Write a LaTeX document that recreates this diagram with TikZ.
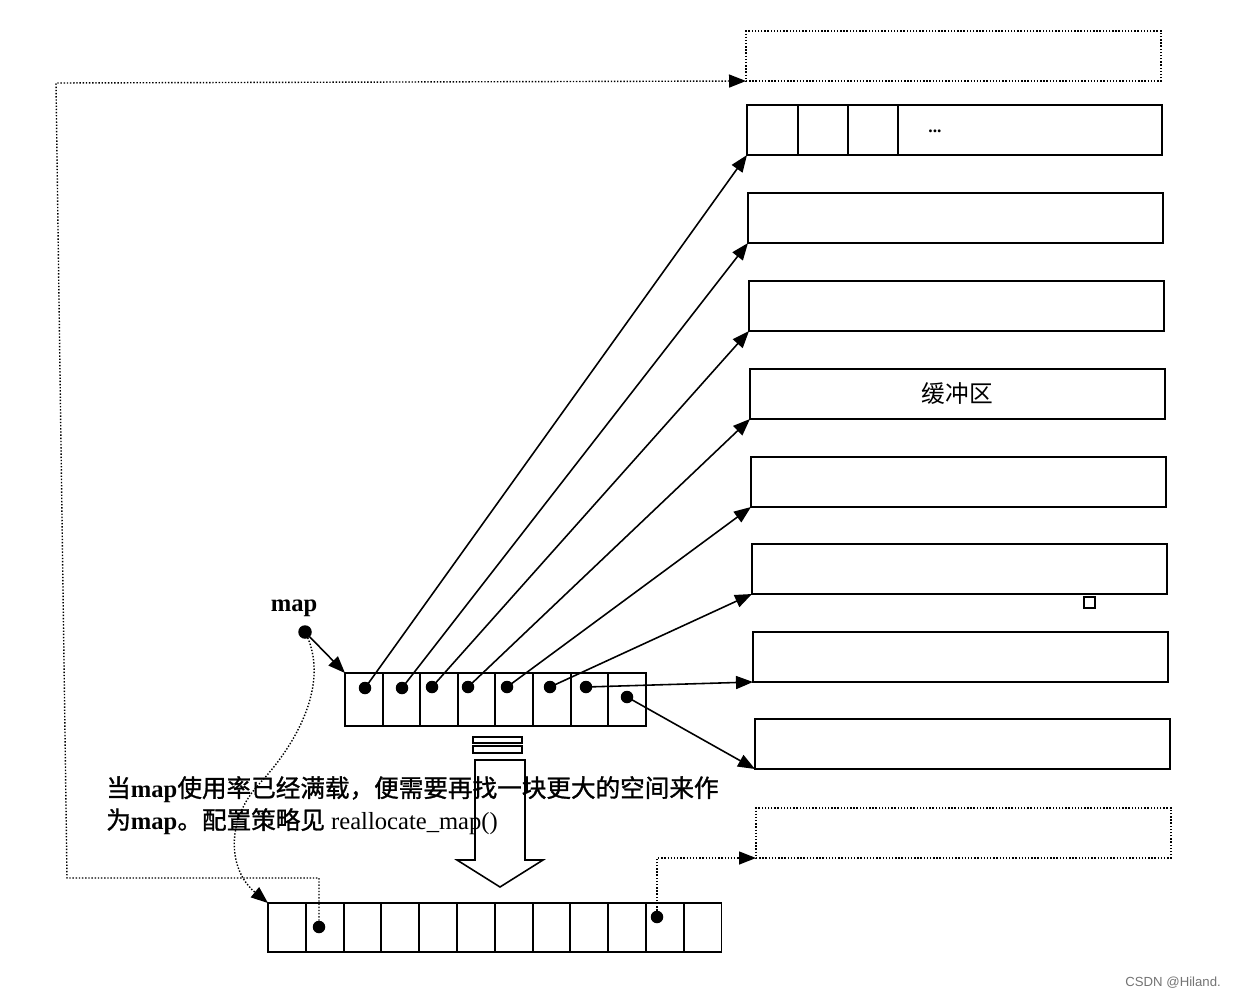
\documentclass[tikz,border=0pt]{standalone}
\usepackage{fontspec}
\setmainfont{Liberation Serif}
\newfontfamily\cjk{Noto Sans CJK SC}
\newfontfamily\cjkb[FakeBold=1.2]{Noto Sans CJK SC}
\newfontfamily\wmfont{Liberation Sans}
\usetikzlibrary{positioning,arrows.meta}

\tikzset{
  buf/.style={draw,line width=1.1pt,minimum width=8.3cm,minimum height=1.0cm,anchor=north west,inner sep=0pt,outer sep=0pt},
  ghost/.style={buf,line width=0.8pt,densely dotted},
  cell/.style={draw,line width=1.1pt,minimum width=0.752cm,minimum height=1.06cm,inner sep=0pt,outer sep=0pt},
  ptr/.style={circle,fill,inner sep=0pt,minimum size=0.25cm},
  link/.style={-{Triangle[length=3.4mm,width=2.6mm]},line width=0.9pt},
  dlink/.style={link,line width=0.8pt,densely dotted},
  note/.style={anchor=base west,inner sep=0pt,font=\fontsize{14}{16}\selectfont},
}

\begin{document}
\begin{tikzpicture}[x=0.02cm,y=-0.02cm]
\useasboundingbox (0,0) rectangle (1240,998);
% buffers on the right
\node[ghost] (b0) at (746,31) {};
\foreach \i/\x/\y in {1/747/105, 2/748/193, 3/749/281, 4/750/369, 5/751/457, 6/752/544, 7/753/632, 8/755/719}
  {\node[buf] (b\i) at (\x,\y) {};}
\node[ghost] (b9) at (756,808) {};
\foreach \k in {51,101,151}
  {\draw[line width=1.1pt] ([xshift=\k*0.02cm]b1.north west) -- ([xshift=\k*0.02cm]b1.south west);}
\node[font=\bfseries\normalsize] (etc) at (935,131) {...};
\node[font=\cjk\fontsize{13.5}{16}\selectfont] (bufname) at (b4.center) {缓冲区};
\draw[line width=0.7pt] (1084,597) rectangle (1095,608);
% the map and its pointers
\node[cell] (m1) at (363.8,699.5) {};
\foreach \k [count=\j] in {2,...,8}
  {\node[cell,right=0pt of m\j] (m\k) {};}
\foreach \i/\x/\y in {1/365/688, 2/402/688, 3/432/687, 4/468/687, 5/507/687, 6/550/687, 7/586/687, 8/627/697}
  {\node[ptr] (d\i) at (\x,\y) {};}
\foreach \i in {1,...,8}
  {\draw[link] (d\i.center) -- (b\i.south west);}
\node[font=\bfseries\fontsize{14}{16}\selectfont] (maplbl) at (294,608) {map};
\node[ptr,minimum size=0.27cm] (mapptr) at (305,632) {};
\draw[link] (mapptr.center) -- (m1.north west);
% the larger map
\node[cell,minimum width=0.756cm,minimum height=0.98cm] (n1) at (286.9,927.5) {};
\foreach \k [count=\j] in {2,...,12}
  {\node[cell,minimum width=0.756cm,minimum height=0.98cm,right=0pt of n\j] (n\k) {};}
\node[ptr] (e1) at (319,927) {};
\node[ptr] (e2) at (657,917) {};
\draw[dlink] (mapptr.center) .. controls (330,680) and (300,740) .. (260,783) .. controls (225,820) and (228,870) .. (n1.north west);
\draw[dlink] (e1.center) |- (67,878) -- (56,83) -- (b0.south west);
\draw[dlink] (e2.center) |- (b9.south west);
% hollow arrow
\draw[line width=0.9pt] (473,737) rectangle (522,743);
\draw[line width=0.9pt] (473,746) rectangle (522,753);
\draw[line width=0.9pt] (475,760) -- (525,760) -- (525,860) -- (543,860) -- (500,887) -- (457,860) -- (475,860) -- cycle;
\node[note] (note1) at (106,797) {{\cjkb 当}\textbf{map}{\cjkb 使用率已经满载，便需要再找一块更大的空间来作}};
\node[note] (note2) at (106,829) {{\cjkb 为}\textbf{map}{\cjkb 。配置策略见} reallocate\_map()};
\node[font=\wmfont\fontsize{7.5}{9}\selectfont,text=black!55,anchor=east] (wm) at (1227,983) {CSDN @Hiland.};
\end{tikzpicture}
\end{document}
